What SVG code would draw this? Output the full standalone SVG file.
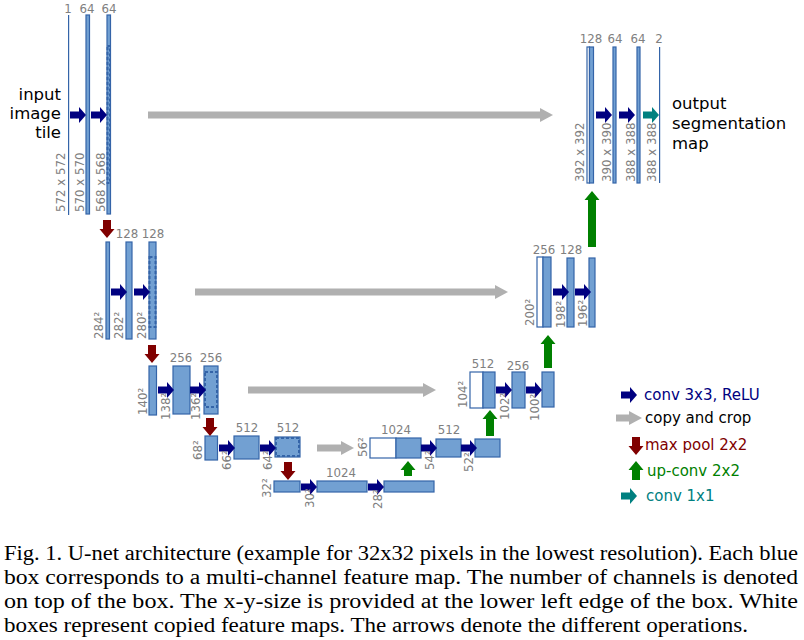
<svg xmlns="http://www.w3.org/2000/svg" width="804" height="640" viewBox="0 0 804 640">
<style>
.b{fill:#72a0d2;stroke:#3464a8;stroke-width:1.2}
.w{fill:#fff;stroke:#3464a8;stroke-width:1.2}
.d{fill:none;stroke:#3464a8;stroke-width:2;stroke-dasharray:3,2}
.l{font-family:"DejaVu Sans",sans-serif;font-size:11.8px;fill:#808080}
.t{font-family:"DejaVu Sans",sans-serif;font-size:15px;fill:#000}
.c{font-family:"Liberation Serif",serif;font-size:20px;fill:#000}
.cp{stroke:#b0b0b0;stroke-width:7}
.g{fill:#008000}
</style>
<defs>
<path id="cv" d="M0,-3.5 h9 v-4.5 l7,8 l-7,8 v-4.5 h-9z" fill="#000080"/>
<path id="cx" d="M0,-3.5 h9 v-4.5 l7,8 l-7,8 v-4.5 h-9z" fill="#008080"/>
<path id="mp" d="M-4,0 v9 h-3.5 l7.5,9 l7.5,-9 h-3.5 v-9z" fill="#800000"/>
<path id="up" d="M-4,0 v-10 h-3.5 l7.5,-9 l7.5,9 h-3.5 v10z" fill="#008000"/>
<path id="gh" d="M0,-7 l13,7 l-13,7z" fill="#b0b0b0"/>
</defs>
<g id="enc1">
<rect x="68" y="15" width="1.2" height="200" fill="#3464a8"/>
<rect class="b" x="86" y="15" width="3.5" height="199"/>
<rect class="b" x="107" y="15" width="3.5" height="199"/>
<rect class="d" x="107.5" y="46" width="2.5" height="137"/>
</g>
<g id="enc2">
<rect class="b" x="106" y="242" width="3.5" height="97"/>
<rect class="b" x="126" y="242" width="6" height="97"/>
<rect class="b" x="149" y="242" width="7" height="97"/>
<rect class="d" x="149.5" y="257" width="6" height="70"/>
</g>
<g id="enc3">
<rect class="b" x="149" y="366" width="7.5" height="49"/>
<rect class="b" x="173" y="366" width="17" height="48"/>
<rect class="b" x="204" y="366" width="14" height="48"/>
<rect class="d" x="205" y="372" width="12" height="35"/>
</g>
<g id="enc4">
<rect class="b" x="205" y="436" width="12.5" height="24"/>
<rect class="b" x="234" y="436" width="25" height="23"/>
<rect class="b" x="275" y="437" width="25" height="20"/>
<rect class="d" x="276" y="438" width="23" height="18"/>
</g>
<g id="bottom">
<rect class="b" x="274" y="481" width="26" height="11"/>
<rect class="b" x="317" y="481" width="50" height="11"/>
<rect class="b" x="384" y="481" width="50" height="11"/>
</g>
<g id="dec4">
<rect class="w" x="370" y="438" width="26" height="20"/>
<rect class="b" x="396" y="438" width="25" height="20"/>
<rect class="b" x="436" y="439" width="25" height="18"/>
<rect class="b" x="475" y="439" width="25" height="18"/>
</g>
<g id="dec3">
<rect class="w" x="470" y="372" width="13" height="36"/>
<rect class="b" x="483" y="372" width="12" height="36"/>
<rect class="b" x="512" y="372" width="13" height="36"/>
<rect class="b" x="542" y="372" width="12" height="35"/>
</g>
<g id="dec2">
<rect class="w" x="537" y="257" width="6" height="70"/>
<rect class="b" x="543" y="257" width="8" height="70"/>
<rect class="b" x="567" y="258" width="7" height="69"/>
<rect class="b" x="589" y="258" width="6" height="69"/>
</g>
<g id="dec1">
<rect class="w" x="587" y="47" width="2.5" height="136"/>
<rect class="b" x="589.5" y="47" width="4" height="136"/>
<rect class="b" x="613" y="47" width="3" height="136"/>
<rect class="b" x="637" y="47" width="3" height="136"/>
<rect x="659" y="47" width="1.2" height="136" fill="#3464a8"/>
</g>
<g id="connectors">
<use href="#cv" x="70" y="115"/><use href="#cv" x="91" y="115"/>
<use href="#cv" x="111" y="292"/><use href="#cv" x="134" y="292"/>
<use href="#cv" x="158" y="390"/><use href="#cv" x="190" y="390"/>
<use href="#cv" x="219" y="448"/><use href="#cv" x="260" y="448"/>
<use href="#cv" x="301" y="487"/><use href="#cv" x="368" y="487"/>
<use href="#cv" x="421" y="448"/><use href="#cv" x="461" y="448"/>
<use href="#cv" x="496" y="390"/><use href="#cv" x="526" y="390"/>
<use href="#cv" x="553" y="292"/><use href="#cv" x="575" y="292"/>
<use href="#cv" x="596" y="115"/><use href="#cv" x="619" y="115"/>
<use href="#cx" x="643" y="115"/>
<use href="#mp" x="107" y="220"/><use href="#mp" x="152" y="345"/>
<use href="#mp" x="210" y="418"/><use href="#mp" x="288" y="462"/>
<path class="g" d="M404,476 V470 h-3.5 l7.5,-9 l7.5,9 h-3.5 V476z"/>
<path class="g" d="M486,436 V419 h-3.5 l7.5,-9 l7.5,9 h-3.5 V436z"/>
<path class="g" d="M544,368 V344 h-3.5 l7.5,-9 l7.5,9 h-3.5 V368z"/>
<path class="g" d="M588,247 V200 h-3.5 l7.5,-9 l7.5,9 h-3.5 V247z"/>
<line class="cp" x1="148" y1="115" x2="541" y2="115"/><use href="#gh" x="540" y="115"/>
<line class="cp" x1="195" y1="292" x2="496" y2="292"/><use href="#gh" x="495" y="292"/>
<line class="cp" x1="248" y1="390" x2="424" y2="390"/><use href="#gh" x="423" y="390"/>
<line class="cp" x1="317" y1="448" x2="342" y2="448"/><use href="#gh" x="341" y="448"/>
</g>
<g id="labels" class="l">
<text x="68" y="13" text-anchor="middle">1</text>
<text x="87" y="13" text-anchor="middle">64</text>
<text x="109" y="13" text-anchor="middle">64</text>
<text x="127" y="238" text-anchor="middle">128</text>
<text x="153" y="238" text-anchor="middle">128</text>
<text x="181" y="362" text-anchor="middle">256</text>
<text x="211" y="362" text-anchor="middle">256</text>
<text x="247" y="432" text-anchor="middle">512</text>
<text x="288" y="432" text-anchor="middle">512</text>
<text x="341" y="477" text-anchor="middle">1024</text>
<text x="396" y="434" text-anchor="middle">1024</text>
<text x="449" y="434" text-anchor="middle">512</text>
<text x="483" y="368" text-anchor="middle">512</text>
<text x="518" y="370" text-anchor="middle">256</text>
<text x="544" y="254" text-anchor="middle">256</text>
<text x="571" y="254" text-anchor="middle">128</text>
<text x="591" y="43" text-anchor="middle">128</text>
<text x="615" y="43" text-anchor="middle">64</text>
<text x="638" y="43" text-anchor="middle">64</text>
<text x="659" y="43" text-anchor="middle">2</text>
<text transform="translate(65,212) rotate(-90)">572 x 572</text>
<text transform="translate(84,212) rotate(-90)">570 x 570</text>
<text transform="translate(105,212) rotate(-90)">568 x 568</text>
<text transform="translate(103,339) rotate(-90)">284²</text>
<text transform="translate(123,339) rotate(-90)">282²</text>
<text transform="translate(146,339) rotate(-90)">280²</text>
<text transform="translate(147,415) rotate(-90)">140²</text>
<text transform="translate(170,420) rotate(-90)">138²</text>
<text transform="translate(200,420) rotate(-90)">136²</text>
<text transform="translate(202,460) rotate(-90)">68²</text>
<text transform="translate(231,470) rotate(-90)">66²</text>
<text transform="translate(272,470) rotate(-90)">64²</text>
<text transform="translate(271,498) rotate(-90)">32²</text>
<text transform="translate(314,508) rotate(-90)">30²</text>
<text transform="translate(382,509) rotate(-90)">28²</text>
<text transform="translate(367,457) rotate(-90)">56²</text>
<text transform="translate(434,470) rotate(-90)">54²</text>
<text transform="translate(473,472) rotate(-90)">52²</text>
<text transform="translate(467,408) rotate(-90)">104²</text>
<text transform="translate(509,420) rotate(-90)">102²</text>
<text transform="translate(539,421) rotate(-90)">100²</text>
<text transform="translate(534,326) rotate(-90)">200²</text>
<text transform="translate(565,328) rotate(-90)">198²</text>
<text transform="translate(587,327) rotate(-90)">196²</text>
<text transform="translate(584,182) rotate(-90)">392 x 392</text>
<text transform="translate(611,182) rotate(-90)">390 x 390</text>
<text transform="translate(635,182) rotate(-90)">388 x 388</text>
<text transform="translate(656,182) rotate(-90)">388 x 388</text>
</g>
<g id="text" class="t" style="font-size:16.5px">
<text x="61" y="100" text-anchor="end">input</text>
<text x="61" y="119" text-anchor="end">image</text>
<text x="61" y="138" text-anchor="end">tile</text>
<text x="672" y="109">output</text>
<text x="672" y="129">segmentation</text>
<text x="672" y="149">map</text>
</g>
<g id="legend" class="t">
<use href="#cv" x="621" y="395"/><text x="644" y="400" fill="#000080">conv 3x3, ReLU</text>
<line class="cp" x1="616" y1="418" x2="630" y2="418"/><use href="#gh" x="629" y="418"/><text x="645" y="423">copy and crop</text>
<use href="#mp" x="636" y="437"/><text x="645" y="450" fill="#800000">max pool 2x2</text>
<use href="#up" x="636" y="480"/><text x="647" y="476" fill="#008000">up-conv 2x2</text>
<use href="#cx" x="621" y="496"/><text x="646" y="501" fill="#008080">conv 1x1</text>
</g>
<g id="caption" class="c">
<text x="4" y="560" textLength="794" lengthAdjust="spacingAndGlyphs">Fig. 1. U-net architecture (example for 32x32 pixels in the lowest resolution). Each blue</text>
<text x="4" y="584" textLength="794" lengthAdjust="spacingAndGlyphs">box corresponds to a multi-channel feature map. The number of channels is denoted</text>
<text x="4" y="608" textLength="794" lengthAdjust="spacingAndGlyphs">on top of the box. The x-y-size is provided at the lower left edge of the box. White</text>
<text x="4" y="632" textLength="744" lengthAdjust="spacingAndGlyphs">boxes represent copied feature maps. The arrows denote the different operations.</text>
</g>
</svg>
